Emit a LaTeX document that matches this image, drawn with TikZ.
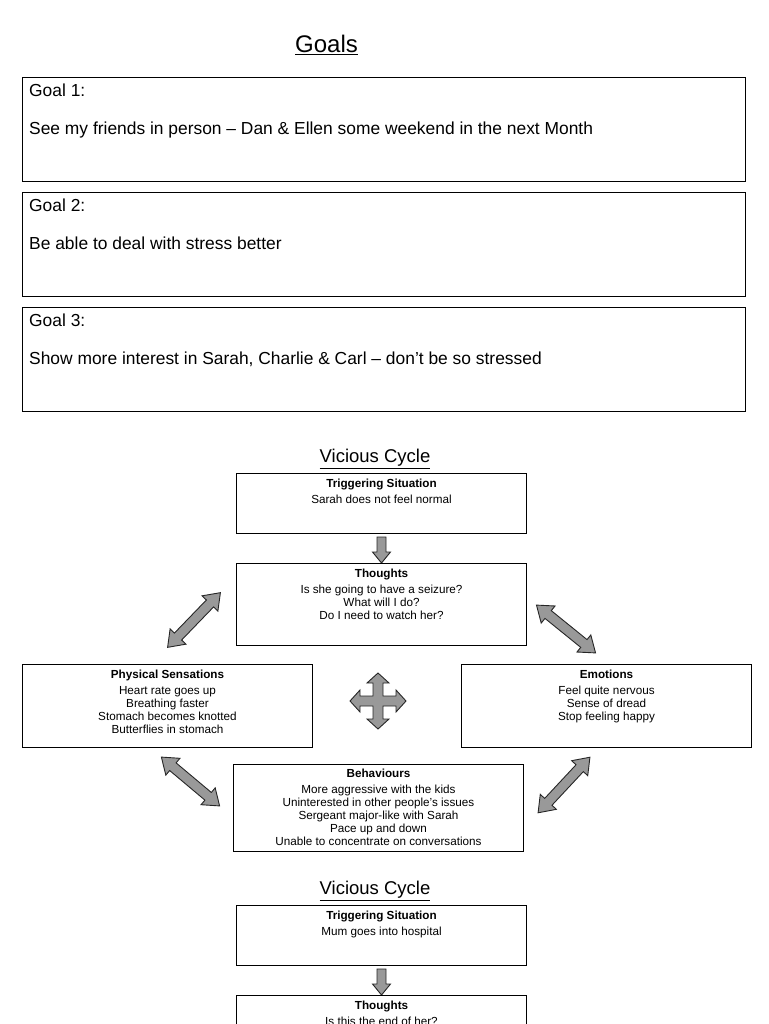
\documentclass[tikz,border=0pt]{standalone}
\usepackage{fontspec}
\setmainfont{Liberation Sans}
\usetikzlibrary{positioning,calc}

\tikzset{
  goalbox/.style={draw, line width=1pt, minimum width=723, minimum height=104, anchor=north west, inner sep=0},
  cyclebox/.style={draw, line width=1pt, minimum width=290, anchor=north west, inner sep=0},
  cycletext/.style={anchor=north, align=center, inner sep=0, font=\fontsize{11.7}{13}\selectfont},
  goaltext/.style={anchor=base west, inner sep=0, font=\fontsize{17.4}{20}\selectfont},
  heading/.style={anchor=base, inner sep=0},
  blockarrow/.style={fill=black!40, draw=black!85, line width=0.9pt, line join=miter},
  dblarrow/.pic={\filldraw[blockarrow] (-38,0) -- (-23,11) -- (-23,5) -- (23,5) -- (23,11) -- (38,0) -- (23,-11) -- (23,-5) -- (-23,-5) -- (-23,-11) -- cycle;},
  downarrow/.pic={\filldraw[blockarrow] (-4.5,0) -- (4.5,0) -- (4.5,15) -- (9,15) -- (0,26) -- (-9,15) -- (-4.5,15) -- cycle;},
  crossarrow/.pic={\filldraw[blockarrow] (0,-28) -- (11,-18) -- (5,-18) -- (5,-5) -- (18,-5) -- (18,-11) -- (28,0) -- (18,11) -- (18,5) -- (5,5) -- (5,18) -- (11,18) -- (0,28) -- (-11,18) -- (-5,18) -- (-5,5) -- (-18,5) -- (-18,11) -- (-28,0) -- (-18,-11) -- (-18,-5) -- (-5,-5) -- (-5,-18) -- (-11,-18) -- cycle;}
}

\begin{document}
\begin{tikzpicture}[x=1pt, y=-1pt]
\useasboundingbox (0,0) rectangle (768,1024);

% goals
\node[heading, font=\fontsize{24}{28}\selectfont] (goals) at (326.5,52.2) {\underline{Goals}};
\node[goalbox] (goal1) at (22,77) {};
\node[goaltext] (goal1a) at (29,96.5) {Goal 1:};
\node[goaltext] (goal1b) at (29,134.5) {See my friends in person – Dan \& Ellen some weekend in the next Month};
\node[goalbox] (goal2) at (22,192) {};
\node[goaltext] (goal2a) at (29,211.5) {Goal 2:};
\node[goaltext] (goal2b) at (29,249.5) {Be able to deal with stress better};
\node[goalbox] (goal3) at (22,307) {};
\node[goaltext] (goal3a) at (29,326.5) {Goal 3:};
\node[goaltext] (goal3b) at (29,364.5) {Show more interest in Sarah, Charlie \& Carl – don’t be so stressed};

% first cycle
\node[heading, font=\fontsize{18.5}{22}\selectfont] (cycle1) at (375,462.7) {\underline{Vicious Cycle}};
\node[cyclebox, minimum height=60] (trig1) at (236,473) {};
\node[cycletext] (trig1t) at ($(trig1.north)+(0,5.5)$) {\textbf{Triggering Situation}\\[3.5pt] Sarah does not feel normal};
\pic at ($(trig1.south)+(0,3)$) {downarrow};
\node[cyclebox, minimum height=82] (thou1) at (236,563) {};
\node[cycletext] (thou1t) at ($(thou1.north)+(0,5.5)$) {\textbf{Thoughts}\\[3.5pt] Is she going to have a seizure?\\ What will I do?\\ Do I need to watch her?};
\node[cyclebox, minimum height=83] (phys1) at (22,664) {};
\node[cycletext] (phys1t) at ($(phys1.north)+(0,5.5)$) {\textbf{Physical Sensations}\\[3.5pt] Heart rate goes up\\ Breathing faster\\ Stomach becomes knotted\\ Butterflies in stomach};
\node[cyclebox, minimum height=83] (emot1) at (461,664) {};
\node[cycletext] (emot1t) at ($(emot1.north)+(0,5.5)$) {\textbf{Emotions}\\[3.5pt] Feel quite nervous\\ Sense of dread\\ Stop feeling happy};
\node[cyclebox, minimum height=87] (beha1) at (233,764) {};
\node[cycletext] (beha1t) at ($(beha1.north)+(0,5)$) {\textbf{Behaviours}\\[3pt] More aggressive with the kids\\ Uninterested in other people’s issues\\ Sergeant major-like with Sarah\\ Pace up and down\\ Unable to concentrate on conversations};
\pic[rotate=46] at (194,620) {dblarrow};
\pic[rotate=-39] at (566,629) {dblarrow};
\pic[rotate=-40] at (190.5,781.5) {dblarrow};
\pic[rotate=47] at (564,785) {dblarrow};
\pic at (378,701) {crossarrow};

% second cycle
\node[heading, font=\fontsize{18.5}{22}\selectfont] (cycle2) at (375,894.7) {\underline{Vicious Cycle}};
\node[cyclebox, minimum height=60] (trig2) at (236,905) {};
\node[cycletext] (trig2t) at ($(trig2.north)+(0,5.5)$) {\textbf{Triggering Situation}\\[3.5pt] Mum goes into hospital};
\pic at ($(trig2.south)+(0,3)$) {downarrow};
\node[cyclebox, minimum height=82] (thou2) at (236,995) {};
\node[cycletext] (thou2t) at ($(thou2.north)+(0,5.5)$) {\textbf{Thoughts}\\[3.5pt] Is this the end of her?};
\end{tikzpicture}
\end{document}
